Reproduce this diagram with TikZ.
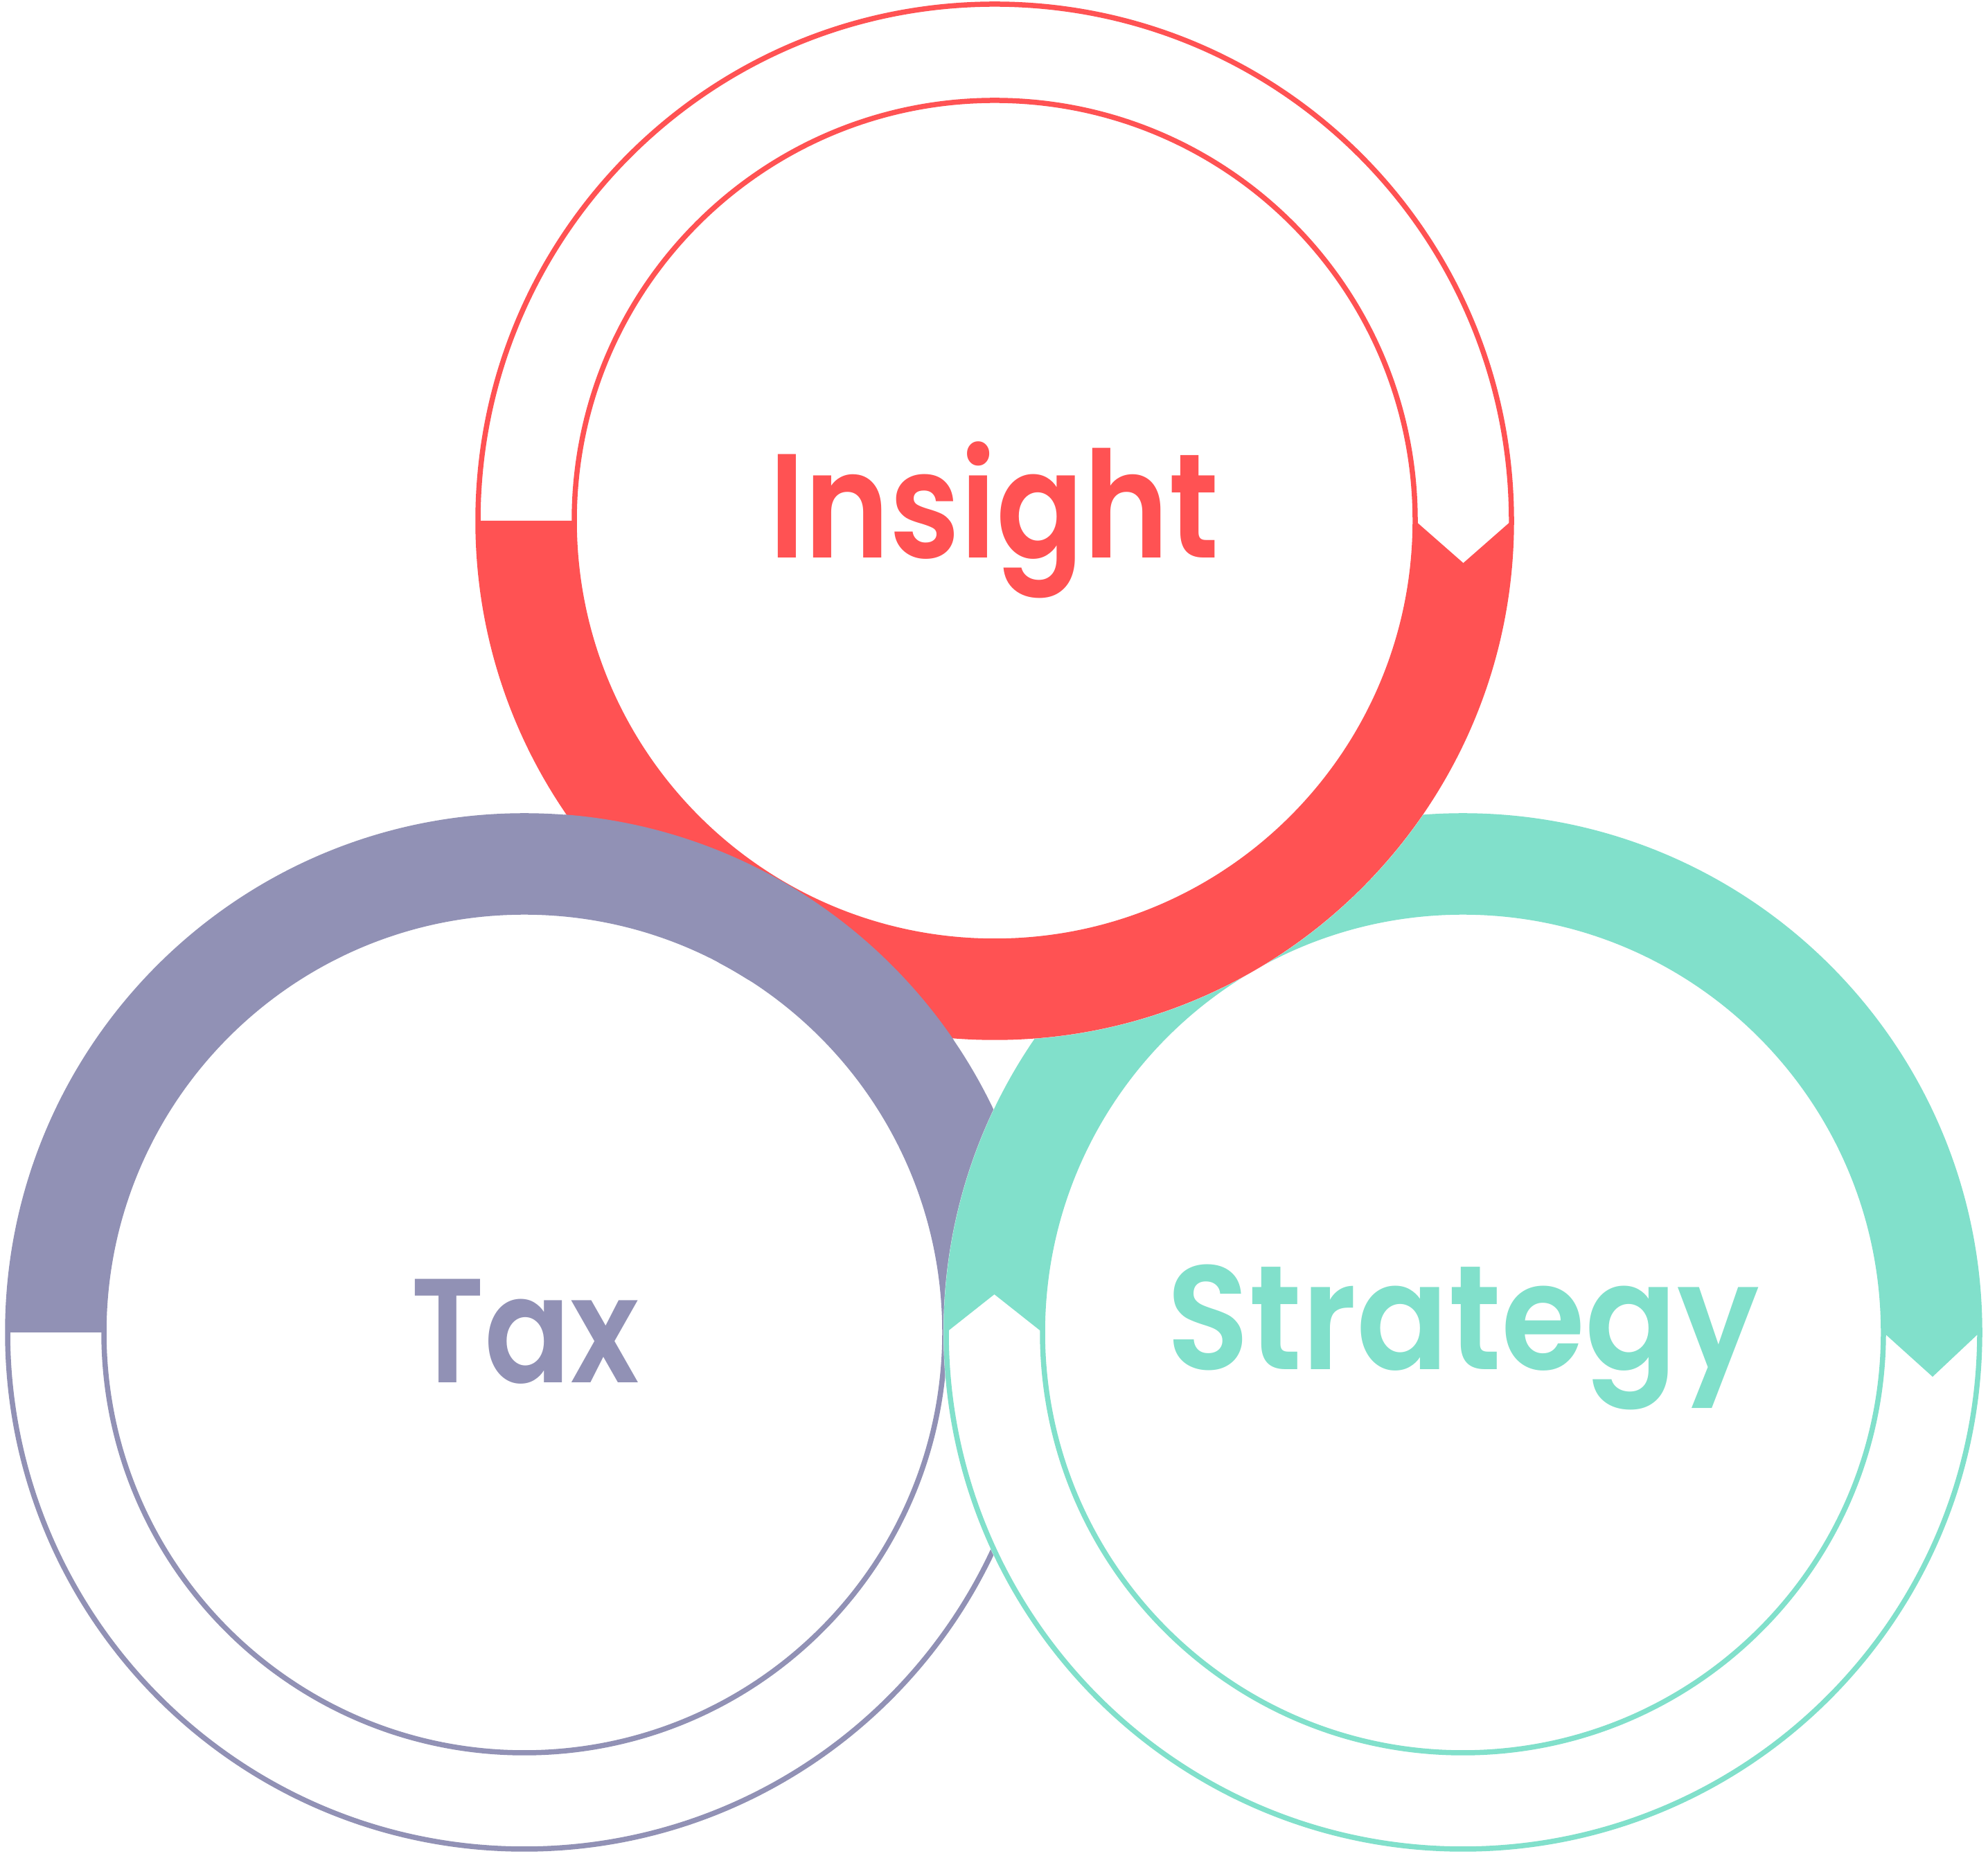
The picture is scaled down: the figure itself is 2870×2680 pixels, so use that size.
\documentclass[tikz,border=0pt]{standalone}
\usepackage{fontspec}
\usepackage{graphicx}
\setmainfont{Poppins}
\newfontfamily\labfont{Poppins SemiBold}
\definecolor{insred}{RGB}{255,82,83}
\definecolor{taxpur}{RGB}{145,145,181}
\definecolor{strteal}{RGB}{129,224,203}
\newcommand{\fitlab}[2]{\resizebox{#1}{\height}{\labfont\fontsize{107}{107}\selectfont #2}}
\tikzset{
  ringline/.style={line width=3.75pt},
  cover/.style={fill=white},
  lab/.style={anchor=base, inner sep=0pt}
}
\begin{document}
\begin{tikzpicture}[x=0.5pt,y=0.5pt]
\useasboundingbox[fill=white] (0,0) rectangle (2870,2680);
% centres
\coordinate (ci) at (1436,1928);
\coordinate (ct) at (757,756);
\coordinate (cs) at (2112,756);
% ---- Tax ring (bottom layer)
\fill[cover] (ct) circle[radius=750];
\fill[taxpur] (11,756) arc[start angle=180,end angle=0,radius=746]
   -- (1364,756) arc[start angle=0,end angle=180,radius=607] -- cycle;
\draw[ringline,taxpur] (ct) circle[radius=746] (ct) circle[radius=607];
% ---- Strategy ring
\fill[cover] (cs) circle[radius=750];
\fill[strteal] (1366,756) arc[start angle=180,end angle=0,radius=746]
   -- (2790,692) -- (2719,756) arc[start angle=0,end angle=180,radius=607]
   -- (1435.5,811) -- cycle;
\draw[ringline,strteal] (cs) circle[radius=746] (cs) circle[radius=607];
% ---- Insight ring
\fill[cover] (ci) circle[radius=750];
\fill[insred] (690,1928) arc[start angle=180,end angle=360,radius=746]
   -- (2112.5,1867) -- (2043,1928) arc[start angle=0,end angle=-180,radius=607] -- cycle;
\draw[ringline,insred] (ci) circle[radius=746] (ci) circle[radius=607];
% ---- Tax band passes over the Insight band (woven)
\begin{scope}
  \clip (ci) circle[radius=752];
  \fill[taxpur] (7,756) arc[start angle=180,end angle=0,radius=750]
     -- (1360,756) arc[start angle=0,end angle=180,radius=603] -- cycle;
\end{scope}
% ---- labels
\node[lab,text=insred] (insight) at (1435,1874) {\fitlab{325pt}{Insight}};
\node[lab,text=taxpur] (tax) at (758,683) {\fitlab{165pt}{Tax}};
\node[lab,text=strteal] (strategy) at (2112,702) {\fitlab{428pt}{Strategy}};
\end{tikzpicture}
\end{document}
